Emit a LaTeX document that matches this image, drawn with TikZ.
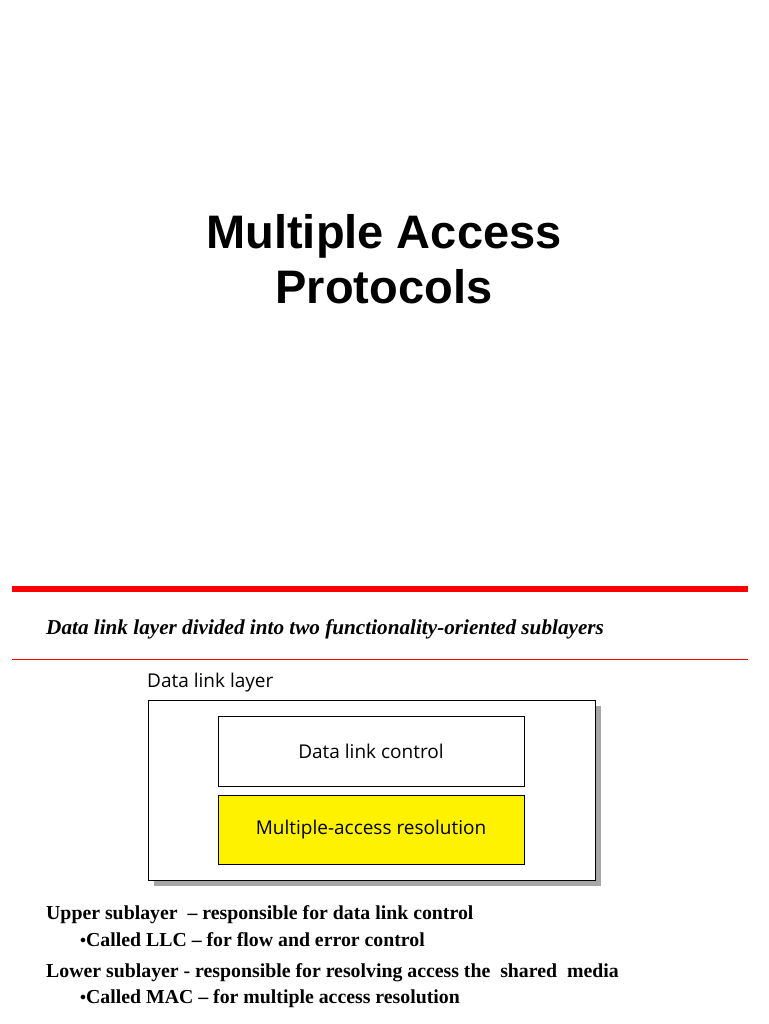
\documentclass[tikz,border=0pt]{standalone}
\usepackage{fontspec}
\setmainfont{Liberation Serif}
\newfontfamily\arial{Liberation Sans}
\newfontfamily\opens{Open Sans}
\begin{document}
\begin{tikzpicture}[x=1pt,y=-1pt,
  txt/.style={anchor=west,inner sep=0pt,font=\bfseries\fontsize{19.8}{22}\selectfont},
  boxlbl/.style={font=\opens\fontsize{19}{22}\selectfont}]
\useasboundingbox (0,0) rectangle (768,1024);
\node[font=\arial\bfseries\fontsize{47}{55}\selectfont,align=center] (title) at (384,259) {Multiple Access\\Protocols};
\draw[red,line width=6pt] (12,589) -- (748,589);
\draw[red,line width=0.7pt] (12,659) -- (748,659);
\node[anchor=west,inner sep=0pt,font=\bfseries\itshape\fontsize{21.2}{24}\selectfont] (sub) at (46,629) {Data link layer divided into two functionality-oriented sublayers};
\node[anchor=west,inner sep=0pt,boxlbl] (dll) at (147,683) {Data link layer};
\fill[gray!70] (154,706) rectangle (601,886);
\draw[fill=white,line width=1pt] (148,700) rectangle (595,880);
\node[draw,line width=1pt,minimum width=306pt,minimum height=70pt,boxlbl] (dlc) at (371,751) {Data link control};
\node[draw,line width=1pt,fill=yellow,minimum width=306pt,minimum height=69pt,boxlbl] (mar) at (371,829.5) {Multiple-access resolution};
\node[txt] (u) at (46,915) {Upper sublayer \ – responsible for data link control};
\node[txt] (u1) at (80,940) {\raisebox{3pt}{\fontsize{13}{13}\selectfont$\bullet$}Called LLC – for flow and error control};
\node[txt] (l) at (46,973) {Lower sublayer - responsible for resolving access the \ shared \ media};
\node[txt] (l1) at (80,999) {\raisebox{3pt}{\fontsize{13}{13}\selectfont$\bullet$}Called MAC – for multiple access resolution};
\end{tikzpicture}
\end{document}
